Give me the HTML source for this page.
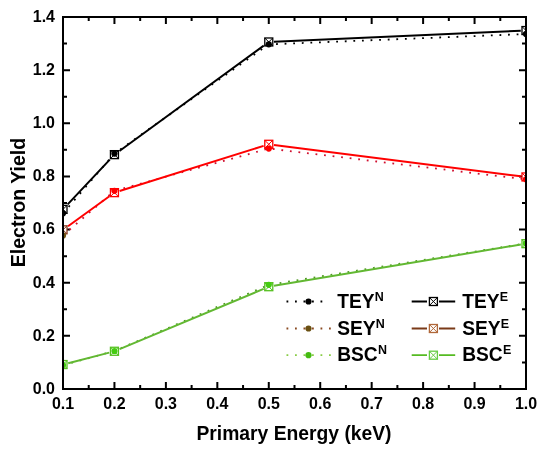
<!DOCTYPE html><html><head><meta charset="utf-8"><style>html,body{margin:0;padding:0;background:#fff;}svg{display:block;}text{font-family:'Liberation Sans', Arial, sans-serif;font-weight:bold;fill:#000;}</style></head><body>
<svg width="550" height="452" viewBox="0 0 550 452">
<rect x="0" y="0" width="550" height="452" fill="#fff"/>
<defs><clipPath id="cp"><rect x="63.00" y="17.00" width="463.00" height="372.00"/></clipPath></defs>
<path d="M63.00,389.00V382.00M63.00,17.00V24.00M88.72,389.00V385.00M88.72,17.00V21.00M114.44,389.00V382.00M114.44,17.00V24.00M140.17,389.00V385.00M140.17,17.00V21.00M165.89,389.00V382.00M165.89,17.00V24.00M191.61,389.00V385.00M191.61,17.00V21.00M217.33,389.00V382.00M217.33,17.00V24.00M243.06,389.00V385.00M243.06,17.00V21.00M268.78,389.00V382.00M268.78,17.00V24.00M294.50,389.00V385.00M294.50,17.00V21.00M320.22,389.00V382.00M320.22,17.00V24.00M345.94,389.00V385.00M345.94,17.00V21.00M371.67,389.00V382.00M371.67,17.00V24.00M397.39,389.00V385.00M397.39,17.00V21.00M423.11,389.00V382.00M423.11,17.00V24.00M448.83,389.00V385.00M448.83,17.00V21.00M474.56,389.00V382.00M474.56,17.00V24.00M500.28,389.00V385.00M500.28,17.00V21.00M526.00,389.00V382.00M526.00,17.00V24.00M63.00,389.00H70.00M526.00,389.00H519.00M63.00,362.43H67.00M526.00,362.43H522.00M63.00,335.86H70.00M526.00,335.86H519.00M63.00,309.29H67.00M526.00,309.29H522.00M63.00,282.71H70.00M526.00,282.71H519.00M63.00,256.14H67.00M526.00,256.14H522.00M63.00,229.57H70.00M526.00,229.57H519.00M63.00,203.00H67.00M526.00,203.00H522.00M63.00,176.43H70.00M526.00,176.43H519.00M63.00,149.86H67.00M526.00,149.86H522.00M63.00,123.29H70.00M526.00,123.29H519.00M63.00,96.71H67.00M526.00,96.71H522.00M63.00,70.14H70.00M526.00,70.14H519.00M63.00,43.57H67.00M526.00,43.57H522.00M63.00,17.00H70.00M526.00,17.00H519.00" stroke="#000" stroke-width="2" fill="none"/>
<g clip-path="url(#cp)">
<path d="M63.00,365.09 L114.44,351.00 L268.78,284.84 L526.00,243.39" fill="none" stroke="#4f9a22" stroke-width="1.8" stroke-dasharray="1.8 6.8"/>
<path d="M63.00,235.42 L114.44,190.78 L268.78,148.53 L526.00,179.35" fill="none" stroke="#d01030" stroke-width="1.8" stroke-dasharray="1.8 6.8"/>
<path d="M63.00,213.36 L114.44,153.58 L268.78,44.37 L526.00,34.01" fill="none" stroke="#000000" stroke-width="1.8" stroke-dasharray="1.8 6.8"/>
<path d="M68.17,363.22L109.27,352.60M119.57,349.12L263.65,288.85M273.97,285.83L520.81,244.52" fill="none" stroke="#62b832" stroke-width="2"/>
<path d="M68.03,226.20L109.42,196.27M119.60,191.02L263.62,145.89M273.97,144.94L520.81,176.30" fill="none" stroke="#ff0000" stroke-width="2"/>
<path d="M67.66,204.42L109.79,159.60M119.47,150.97L263.75,45.65M273.98,41.75L520.80,30.78" fill="none" stroke="#000000" stroke-width="2"/>
<rect x="59.00" y="360.55" width="8" height="8" fill="#fff" stroke="#55c020" stroke-width="1.3"/><path d="M59.00,360.55L67.00,368.55M67.00,360.55L59.00,368.55" stroke="#55c020" stroke-width="1"/>
<rect x="110.44" y="347.27" width="8" height="8" fill="#fff" stroke="#55c020" stroke-width="1.3"/><path d="M110.44,347.27L118.44,355.27M118.44,347.27L110.44,355.27" stroke="#55c020" stroke-width="1"/>
<rect x="264.78" y="282.70" width="8" height="8" fill="#fff" stroke="#55c020" stroke-width="1.3"/><path d="M264.78,282.70L272.78,290.70M272.78,282.70L264.78,290.70" stroke="#55c020" stroke-width="1"/>
<rect x="522.00" y="239.65" width="8" height="8" fill="#fff" stroke="#55c020" stroke-width="1.3"/><path d="M522.00,239.65L530.00,247.65M530.00,239.65L522.00,247.65" stroke="#55c020" stroke-width="1"/>
<rect x="59.00" y="225.84" width="8" height="8" fill="#fff" stroke="#8a3a20" stroke-width="1.3"/><path d="M59.00,225.84L67.00,233.84M67.00,225.84L59.00,233.84" stroke="#8a3a20" stroke-width="1"/>
<rect x="110.44" y="188.64" width="8" height="8" fill="#fff" stroke="#ff0000" stroke-width="1.3"/><path d="M110.44,188.64L118.44,196.64M118.44,188.64L110.44,196.64" stroke="#ff0000" stroke-width="1"/>
<rect x="264.78" y="140.28" width="8" height="8" fill="#fff" stroke="#ff0000" stroke-width="1.3"/><path d="M264.78,140.28L272.78,148.28M272.78,140.28L264.78,148.28" stroke="#ff0000" stroke-width="1"/>
<rect x="522.00" y="172.96" width="8" height="8" fill="#fff" stroke="#ff0000" stroke-width="1.3"/><path d="M522.00,172.96L530.00,180.96M530.00,172.96L522.00,180.96" stroke="#ff0000" stroke-width="1"/>
<rect x="59.00" y="205.38" width="8" height="8" fill="#fff" stroke="#000000" stroke-width="1.3"/><path d="M59.00,205.38L67.00,213.38M67.00,205.38L59.00,213.38" stroke="#000000" stroke-width="1"/>
<rect x="110.44" y="150.64" width="8" height="8" fill="#fff" stroke="#000000" stroke-width="1.3"/><path d="M110.44,150.64L118.44,158.64M118.44,150.64L110.44,158.64" stroke="#000000" stroke-width="1"/>
<rect x="264.78" y="37.98" width="8" height="8" fill="#fff" stroke="#000000" stroke-width="1.3"/><path d="M264.78,37.98L272.78,45.98M272.78,37.98L264.78,45.98" stroke="#000000" stroke-width="1"/>
<rect x="522.00" y="26.55" width="8" height="8" fill="#fff" stroke="#000000" stroke-width="1.3"/><path d="M522.00,26.55L530.00,34.55M530.00,26.55L522.00,34.55" stroke="#000000" stroke-width="1"/>
<circle cx="63.00" cy="365.09" r="3.1" fill="#44cc11"/>
<circle cx="114.44" cy="351.00" r="3.1" fill="#44cc11"/>
<circle cx="268.78" cy="284.84" r="3.1" fill="#44cc11"/>
<circle cx="526.00" cy="243.39" r="3.1" fill="#44cc11"/>
<circle cx="63.00" cy="235.42" r="3.1" fill="#6e5414"/>
<circle cx="114.44" cy="190.78" r="3.1" fill="#ff0000"/>
<circle cx="268.78" cy="148.53" r="3.1" fill="#ff0000"/>
<circle cx="526.00" cy="179.35" r="3.1" fill="#ff0000"/>
<circle cx="63.00" cy="213.36" r="3.1" fill="#000000"/>
<circle cx="114.44" cy="153.58" r="3.1" fill="#000000"/>
<circle cx="268.78" cy="44.37" r="3.1" fill="#000000"/>
<circle cx="526.00" cy="34.01" r="3.1" fill="#000000"/>
</g>
<rect x="63.00" y="17.00" width="463.00" height="372.00" fill="none" stroke="#000" stroke-width="2"/>
<text transform="translate(63.00,408.6) scale(1,1.04)" font-size="16" text-anchor="middle">0.1</text>
<text transform="translate(114.44,408.6) scale(1,1.04)" font-size="16" text-anchor="middle">0.2</text>
<text transform="translate(165.89,408.6) scale(1,1.04)" font-size="16" text-anchor="middle">0.3</text>
<text transform="translate(217.33,408.6) scale(1,1.04)" font-size="16" text-anchor="middle">0.4</text>
<text transform="translate(268.78,408.6) scale(1,1.04)" font-size="16" text-anchor="middle">0.5</text>
<text transform="translate(320.22,408.6) scale(1,1.04)" font-size="16" text-anchor="middle">0.6</text>
<text transform="translate(371.67,408.6) scale(1,1.04)" font-size="16" text-anchor="middle">0.7</text>
<text transform="translate(423.11,408.6) scale(1,1.04)" font-size="16" text-anchor="middle">0.8</text>
<text transform="translate(474.56,408.6) scale(1,1.04)" font-size="16" text-anchor="middle">0.9</text>
<text transform="translate(526.00,408.6) scale(1,1.04)" font-size="16" text-anchor="middle">1.0</text>
<text transform="translate(55,393.80) scale(1,1.04)" font-size="16" text-anchor="end">0.0</text>
<text transform="translate(55,340.66) scale(1,1.04)" font-size="16" text-anchor="end">0.2</text>
<text transform="translate(55,287.51) scale(1,1.04)" font-size="16" text-anchor="end">0.4</text>
<text transform="translate(55,234.37) scale(1,1.04)" font-size="16" text-anchor="end">0.6</text>
<text transform="translate(55,181.23) scale(1,1.04)" font-size="16" text-anchor="end">0.8</text>
<text transform="translate(55,128.09) scale(1,1.04)" font-size="16" text-anchor="end">1.0</text>
<text transform="translate(55,74.94) scale(1,1.04)" font-size="16" text-anchor="end">1.2</text>
<text transform="translate(55,21.80) scale(1,1.04)" font-size="16" text-anchor="end">1.4</text>
<text transform="translate(294,439.7) scale(1,1.03)" font-size="19.3" text-anchor="middle">Primary Energy (keV)</text>
<text transform="translate(24.9,202.5) rotate(-90) scale(1,1.0)" font-size="19.6" text-anchor="middle">Electron Yield</text>
<path d="M286.5,301.5H324" stroke="#000" stroke-width="1.8" stroke-dasharray="1.8 6.7"/>
<circle cx="308.5" cy="301.5" r="3.1" fill="#000"/>
<text transform="translate(337.2,307.5) scale(1,1.03)" font-size="19.2">TEY<tspan font-size="12.5" dx="0.2" dy="-6.8">N</tspan></text>
<path d="M286.5,328.5H331" stroke="#8a4a22" stroke-width="1.8" stroke-dasharray="1.8 6.7"/>
<circle cx="308.5" cy="328.5" r="3.1" fill="#6a5012"/>
<text transform="translate(337.2,334.5) scale(1,1.03)" font-size="19.2">SEY<tspan font-size="12.5" dx="0.2" dy="-6.8">N</tspan></text>
<path d="M286.5,355.2H331" stroke="#88cc44" stroke-width="1.8" stroke-dasharray="1.8 6.7"/>
<circle cx="308.5" cy="355.2" r="3.1" fill="#44bb11"/>
<text transform="translate(337.2,361.2) scale(1,1.03)" font-size="19.2">BSC<tspan font-size="12.5" dx="0.2" dy="-6.8">N</tspan></text>
<path d="M411.7,301.5H427M439,301.5H455.2" stroke="#000" stroke-width="1.8"/>
<rect x="429.40" y="297.50" width="8" height="8" fill="#fff" stroke="#000" stroke-width="1.3"/><path d="M429.40,297.50L437.40,305.50M437.40,297.50L429.40,305.50" stroke="#000" stroke-width="1"/>
<text transform="translate(462.2,307.5) scale(1,1.03)" font-size="19.2">TEY<tspan font-size="12.5" dx="0.2" dy="-6.8">E</tspan></text>
<path d="M411.7,328.5H427M439,328.5H455.2" stroke="#7a3a18" stroke-width="1.8"/>
<rect x="429.40" y="324.50" width="8" height="8" fill="#fff" stroke="#b0683a" stroke-width="1.3"/><path d="M429.40,324.50L437.40,332.50M437.40,324.50L429.40,332.50" stroke="#b0683a" stroke-width="1"/>
<text transform="translate(462.2,334.5) scale(1,1.03)" font-size="19.2">SEY<tspan font-size="12.5" dx="0.2" dy="-6.8">E</tspan></text>
<path d="M411.7,355.2H427M439,355.2H455.2" stroke="#55bb22" stroke-width="1.8"/>
<rect x="429.40" y="351.20" width="8" height="8" fill="#fff" stroke="#66cc44" stroke-width="1.3"/><path d="M429.40,351.20L437.40,359.20M437.40,351.20L429.40,359.20" stroke="#66cc44" stroke-width="1"/>
<text transform="translate(462.2,361.2) scale(1,1.03)" font-size="19.2">BSC<tspan font-size="12.5" dx="0.2" dy="-6.8">E</tspan></text>
</svg></body></html>
